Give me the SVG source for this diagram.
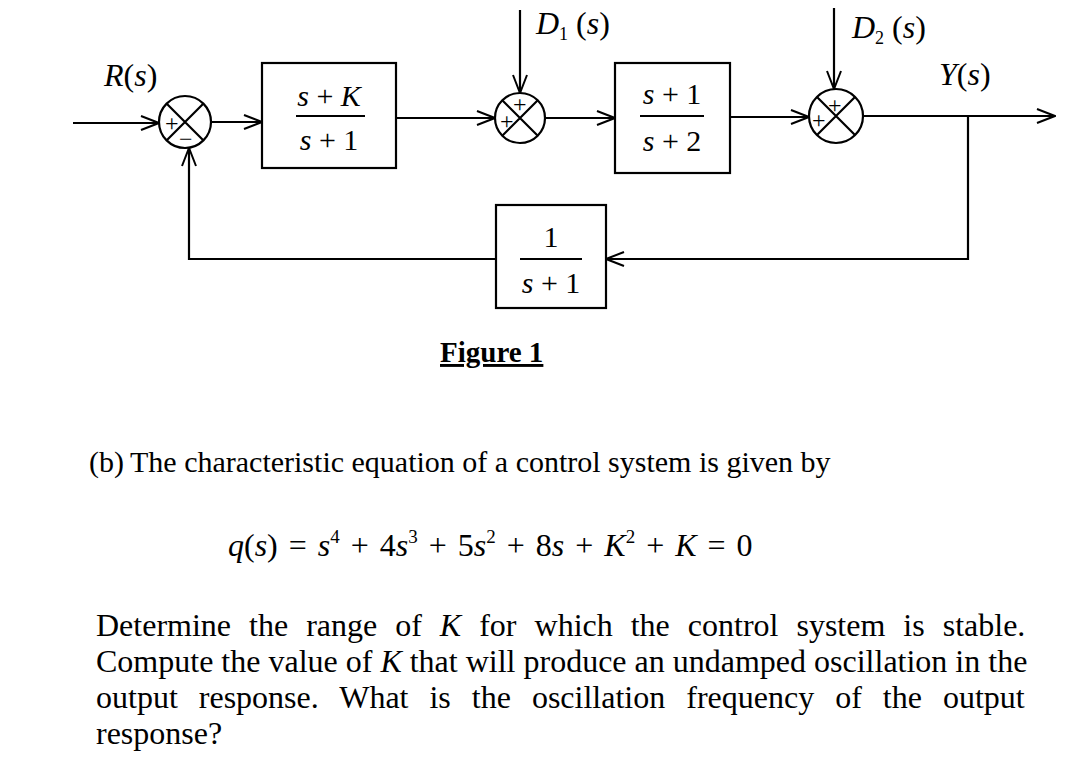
<svg xmlns="http://www.w3.org/2000/svg" width="1084" height="774" viewBox="0 0 1084 774">
<style>
.l{stroke:#000;stroke-width:2.2;fill:none}
.t{font-family:"Liberation Serif",serif;fill:#000}
.i{font-style:italic}
</style>
<defs><marker id="a" markerWidth="20" markerHeight="16" refX="19" refY="8" orient="auto" markerUnits="userSpaceOnUse"><path d="M1,1 L19,8 L1,15" fill="none" stroke="#000" stroke-width="2"/></marker></defs>
<rect width="1084" height="774" fill="#fff"/>
<g id="connectors" class="l">
<path d="M73,123 H159" marker-end="url(#a)"/>
<path d="M211,122 H262" marker-end="url(#a)"/>
<path d="M396,118 H495" marker-end="url(#a)"/>
<path d="M520,10 V93" marker-end="url(#a)"/>
<path d="M545,118 H615" marker-end="url(#a)"/>
<path d="M730,117 H809" marker-end="url(#a)"/>
<path d="M834,8 V89" marker-end="url(#a)"/>
<path d="M862,116 H1055" marker-end="url(#a)"/>
<path d="M968,116 V259 H606" marker-end="url(#a)"/>
<path d="M496,259 H189 V148" marker-end="url(#a)"/>
</g>
<g id="sum1" class="l"><circle cx="185" cy="122" r="26"/><path d="M167,104 L203,140 M203,104 L167,140"/></g>
<g id="sum2" class="l"><circle cx="520" cy="118" r="25"/><path d="M502,100 L538,136 M538,100 L502,136"/></g>
<g id="sum3" class="l"><circle cx="836" cy="116" r="27"/><path d="M817,97 L855,135 M855,97 L817,135"/></g>
<g class="t" font-size="24">
<text x="165" y="131">+</text><text x="179" y="147">−</text>
<text x="500" y="129">+</text><text x="513" y="112">+</text>
<text x="812" y="128">+</text><text x="828" y="113">+</text>
</g>
<g id="box1"><rect class="l" x="262" y="63" width="134" height="105"/><text class="t" font-size="30" x="329" y="106" text-anchor="middle"><tspan class="i">s</tspan> + <tspan class="i">K</tspan></text><path class="l" d="M296,116 H365"/><text class="t" font-size="30" x="329" y="150" text-anchor="middle"><tspan class="i">s</tspan> + 1</text></g>
<g id="box2"><rect class="l" x="615" y="63" width="115" height="110"/><text class="t" font-size="30" x="672" y="104" text-anchor="middle"><tspan class="i">s</tspan> + 1</text><path class="l" d="M640,116 H704"/><text class="t" font-size="30" x="672" y="151" text-anchor="middle"><tspan class="i">s</tspan> + 2</text></g>
<g id="box3"><rect class="l" x="496" y="205" width="110" height="103"/><text class="t" font-size="30" x="551" y="247" text-anchor="middle">1</text><path class="l" d="M520,259 H582"/><text class="t" font-size="30" x="551" y="293" text-anchor="middle"><tspan class="i">s</tspan> + 1</text></g>
<g class="t" font-size="32">
<text x="104" y="86"><tspan class="i">R</tspan>(<tspan class="i">s</tspan>)</text>
<text x="536" y="34"><tspan class="i">D</tspan><tspan font-size="18" dy="6">1</tspan><tspan dy="-6"> (</tspan><tspan class="i">s</tspan>)</text>
<text x="852" y="38"><tspan class="i">D</tspan><tspan font-size="18" dy="6">2</tspan><tspan dy="-6"> (</tspan><tspan class="i">s</tspan>)</text>
<text x="939" y="85"><tspan class="i">Y</tspan>(<tspan class="i">s</tspan>)</text>
</g>
<g class="t" font-size="32">
<text x="440" y="362" font-weight="bold" font-size="29" text-decoration="underline">Figure 1</text>
<text x="89" y="472" font-size="30">(b)</text>
<text x="130" y="472" font-size="30">The characteristic equation of a control system is given by</text>
<text x="228" y="556" word-spacing="3"><tspan class="i">q</tspan>(<tspan class="i">s</tspan>) = <tspan class="i">s</tspan><tspan font-size="19" dy="-13">4</tspan><tspan dy="13"> + 4</tspan><tspan class="i">s</tspan><tspan font-size="19" dy="-13">3</tspan><tspan dy="13"> + 5</tspan><tspan class="i">s</tspan><tspan font-size="19" dy="-13">2</tspan><tspan dy="13"> + 8</tspan><tspan class="i">s</tspan> + <tspan class="i">K</tspan><tspan font-size="19" dy="-13">2</tspan><tspan dy="13"> + </tspan><tspan class="i">K</tspan> = 0</text>
<text x="96" y="636" word-spacing="10">Determine the range of <tspan class="i">K</tspan> for which the control system is stable.</text>
<text x="96" y="672">Compute the value of <tspan class="i">K</tspan> that will produce an undamped oscillation in the</text>
<text x="96" y="708" word-spacing="13">output response.   What is the oscillation frequency of the output</text>
<text x="96" y="744">response?</text>
</g>
</svg>
